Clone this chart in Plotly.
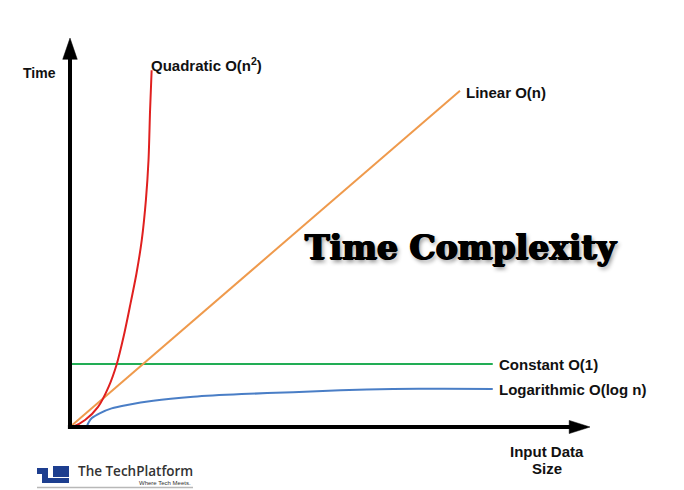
import plotly.graph_objects as go

# ---- data (chart units: input size on x, time on y) ----
quad_x = [0.0, 0.06, 0.29, 0.54, 0.74, 0.90, 1.03, 1.15, 1.28, 1.38, 1.46, 1.51, 1.54, 1.57]
quad_y = [0.0, 0.01, 0.18, 0.52, 1.03, 1.63, 2.33, 3.10, 3.98, 4.83, 5.87, 6.90, 8.19, 9.22]

lin_x = [0.0, 7.5]
lin_y = [0.0, 8.69]

const_x = [0.0, 8.13]
const_y = [1.63, 1.63]

log_x = [0.32, 0.36, 0.42, 0.58, 0.80, 1.10, 1.60, 2.37, 3.30, 4.29, 5.20, 6.21, 7.20, 8.13]
log_y = [0.0, 0.12, 0.23, 0.36, 0.48, 0.57, 0.68, 0.78, 0.85, 0.90, 0.95, 0.98, 0.99, 0.98]

series_names = ["Quadratic O(n<sup>2</sup>)", "Linear O(n)", "Constant O(1)", "Logarithmic O(log n)"]
series_colors = ["#e0201f", "#ef9a4c", "#22ad55", "#4a7ec6"]

W, H = 684, 490
def px(x):
    return x / W
def py(y):
    return 1 - y / H

# plot geometry: x=0 at px 70, 52 px/unit ; y=0 at py 427, 38.7 px/unit
XR = [-0.4, 10.2]
YR = [-0.4, 10.2]
x0p, xs = 70, 52.0
y0p, ys = 427, 38.7
xdom = [px(x0p + XR[0] * xs), px(x0p + XR[1] * xs)]
ydom = [py(y0p - YR[0] * ys), py(y0p - YR[1] * ys)]

fig = go.Figure()
for xs_, ys_, nm, col in [
    (const_x, const_y, series_names[2], series_colors[2]),
    (log_x, log_y, series_names[3], series_colors[3]),
    (lin_x, lin_y, series_names[1], series_colors[1]),
    (quad_x, quad_y, series_names[0], series_colors[0]),
]:
    fig.add_trace(go.Scatter(x=xs_, y=ys_, mode="lines", name=nm,
                             line=dict(color=col, width=2, shape="spline", smoothing=0.8),
                             hoverinfo="skip", showlegend=False))

shapes = []
# axes
shapes.append(dict(type="line", xref="x", yref="y", x0=0, y0=-0.05, x1=0, y1=9.55,
                   line=dict(color="black", width=4)))
shapes.append(dict(type="line", xref="x", yref="y", x0=-0.04, y0=0, x1=9.65, y1=0,
                   line=dict(color="black", width=4)))
shapes.append(dict(type="path", xref="x", yref="y",
                   path="M -0.14,9.5 L 0.14,9.5 L 0,10.05 Z",
                   fillcolor="black", line=dict(color="black", width=0.5)))
shapes.append(dict(type="path", xref="x", yref="y",
                   path="M 9.6,-0.17 L 9.6,0.17 L 10.0,0 Z",
                   fillcolor="black", line=dict(color="black", width=0.5)))

# logo icon
logo_blue = "#1d3e8f"
for (a, b, c, d) in [(37, 468, 48, 474), (42, 474, 48, 483), (48, 478, 69, 483), (53, 466, 69, 477)]:
    shapes.append(dict(type="rect", xref="paper", yref="paper",
                       x0=px(a), y0=py(d), x1=px(c), y1=py(b),
                       fillcolor=logo_blue, line=dict(width=0)))
shapes.append(dict(type="line", xref="paper", yref="paper",
                   x0=px(37), y0=py(487.5), x1=px(193), y1=py(487.5),
                   line=dict(color="#b8b8b8", width=1.5)))

lab_font = dict(family="Liberation Sans, Arial, sans-serif", size=15, color="#111111")
ann = []
def label(text, x, y, xanchor="left", yanchor="middle", font=None, align="left"):
    ann.append(dict(text=text, xref="paper", yref="paper", x=px(x), y=py(y),
                    xanchor=xanchor, yanchor=yanchor, showarrow=False,
                    font=font or lab_font, align=align))

bold = lambda t: "<b>" + t + "</b>"
label(bold("Time"), 21, 73, font=dict(family="Liberation Sans, Arial, sans-serif", size=14, color="#111111"))
label(bold(series_names[0]), 149, 64)
label(bold(series_names[1]), 464, 92)
label(bold(series_names[2]), 497, 364)
label(bold(series_names[3]), 497, 389)
label(bold("Input Data"), 547, 451, xanchor="center")
label(bold("Size"), 547, 468, xanchor="center")
label(bold("Time Complexity"), 461, 247, xanchor="center",
      font=dict(family="DejaVu Serif, serif", size=33, color="black",
                shadow="0.9px 0 0 #000, -0.9px 0 0 #000, 0 0.9px 0 #000, 2px 3px 4px #8a8a8a"))
label("The TechPlatform", 76, 471,
      font=dict(family="Open Sans, sans-serif", size=13.5, color="#333333", weight=600))
label("Where Tech Meets.", 193, 483, xanchor="right",
      font=dict(family="Liberation Sans, sans-serif", size=6, color="#333333"))

fig.update_layout(
    width=W, height=H,
    margin=dict(l=0, r=0, t=0, b=0),
    paper_bgcolor="white", plot_bgcolor="white",
    xaxis=dict(domain=xdom, range=XR, visible=False, fixedrange=True),
    yaxis=dict(domain=ydom, range=YR, visible=False, fixedrange=True),
    shapes=shapes, annotations=ann,
)
fig.write_html("out.html", config={"displayModeBar": False},
               post_script="document.body.style.margin='0';document.body.style.overflow='hidden';")
